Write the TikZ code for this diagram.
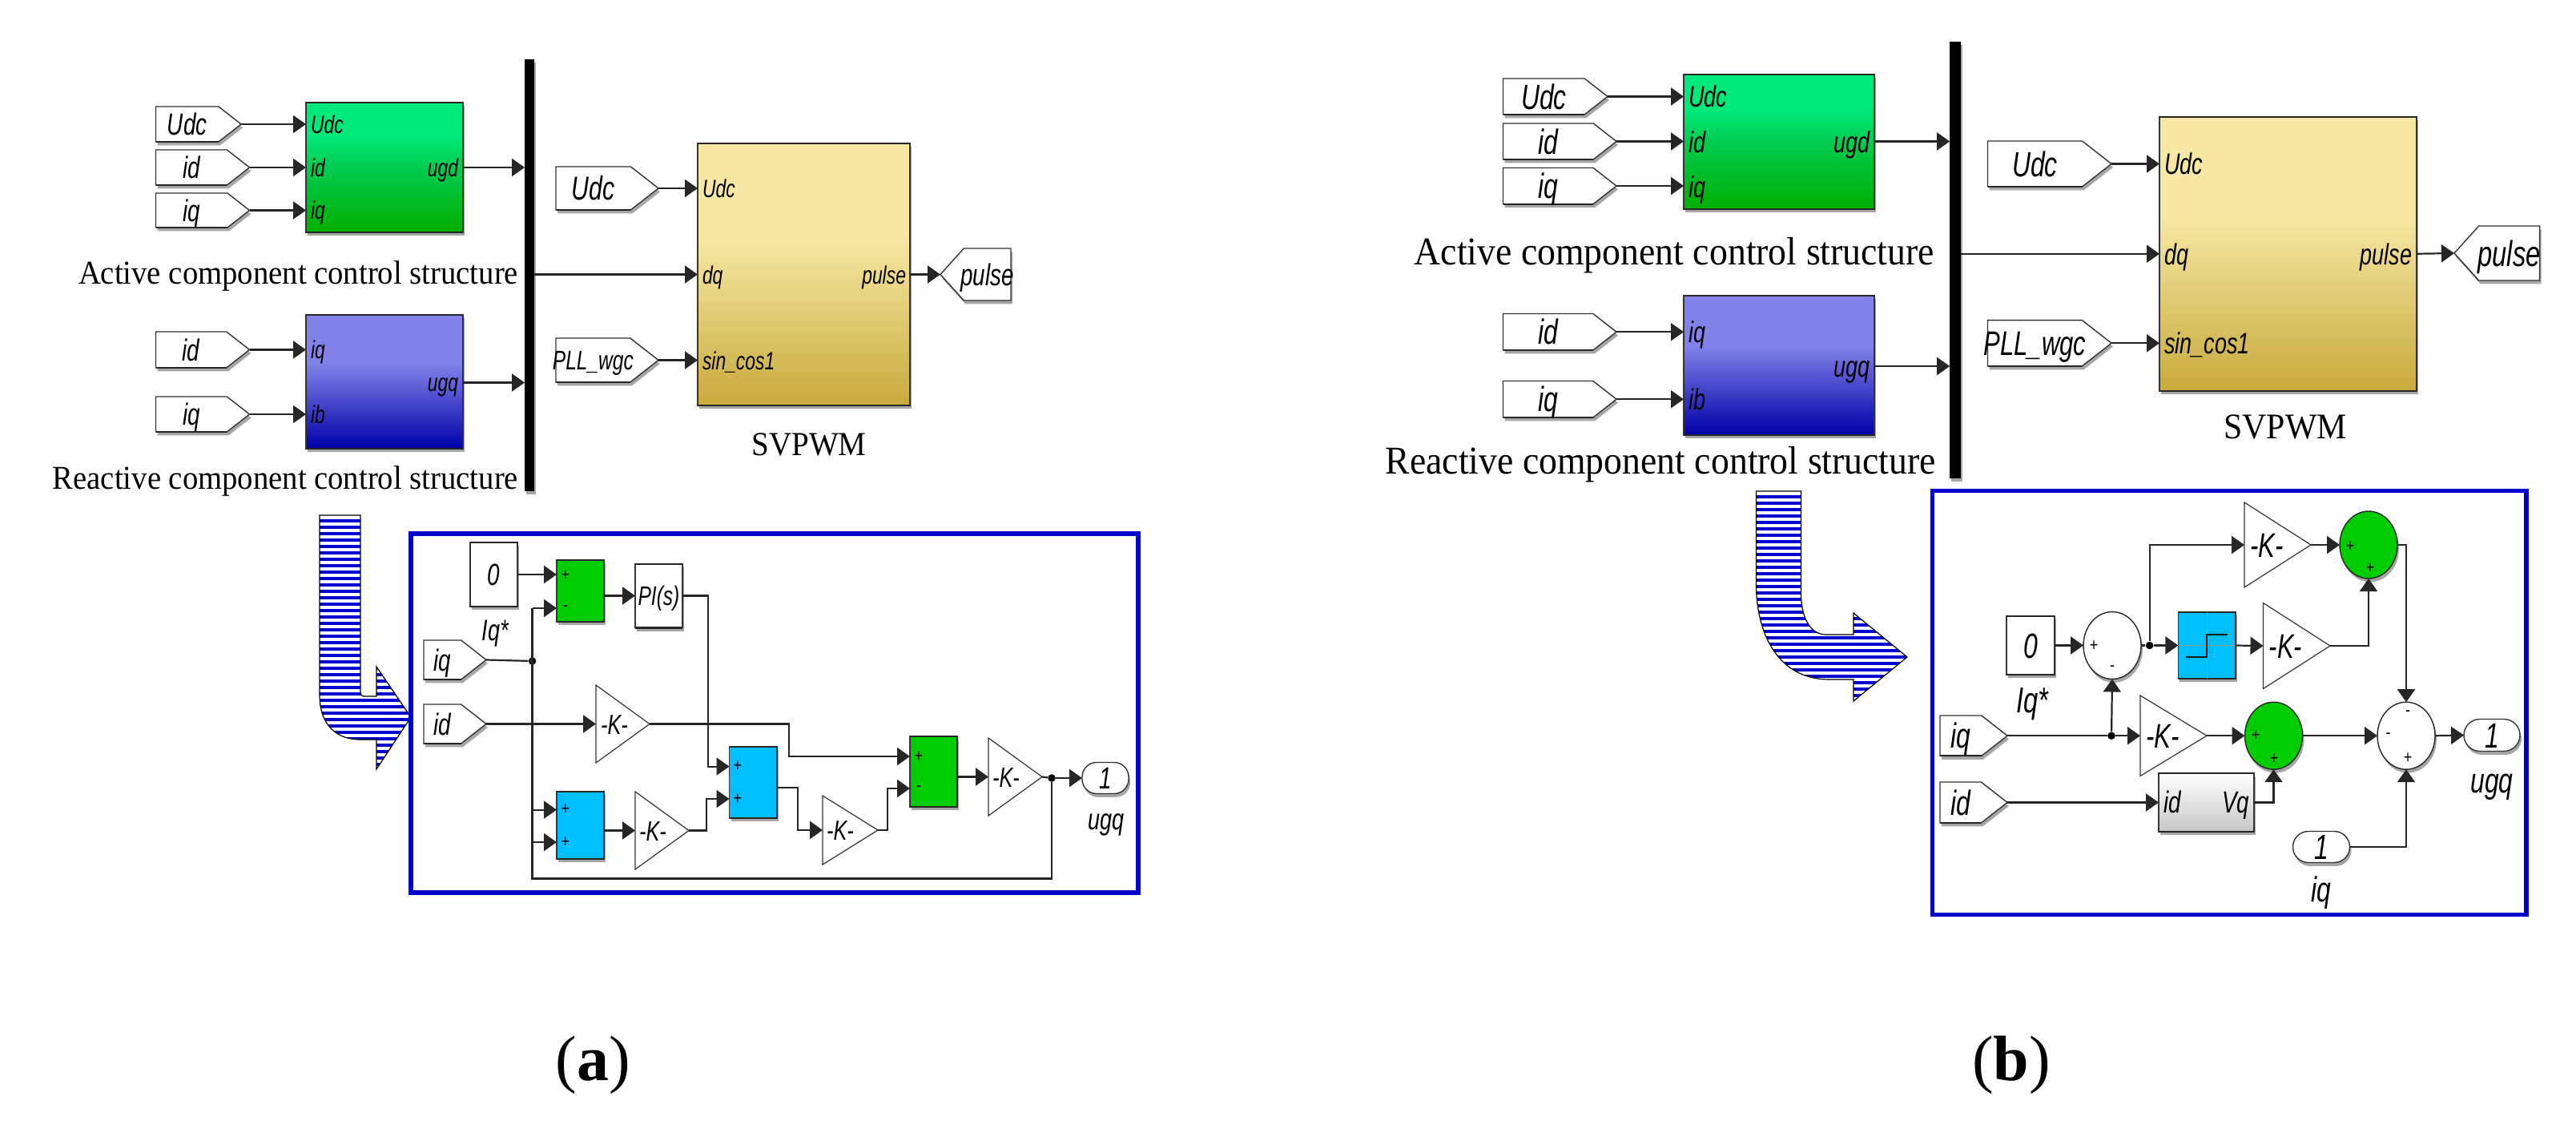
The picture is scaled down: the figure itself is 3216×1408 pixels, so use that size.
\documentclass[tikz,border=0pt]{standalone}
\usepackage{fontspec}
\setmainfont{Liberation Serif}
\newfontfamily\simf[FakeStretch=0.73]{Liberation Sans}
\newfontfamily\simg[FakeStretch=0.82]{Liberation Sans}
\newfontfamily\serf[FakeStretch=0.93]{Liberation Serif}
\usetikzlibrary{arrows.meta,shapes.geometric,shadows,calc}
\definecolor{gA}{HTML}{00CC50}
\definecolor{gB}{HTML}{00E97A}
\definecolor{gC}{HTML}{00AF00}
\definecolor{uA}{HTML}{8282E8}
\definecolor{uC}{HTML}{0000A8}
\definecolor{yA}{HTML}{F6E8A4}
\definecolor{yC}{HTML}{C8AA3C}
\definecolor{frameblue}{HTML}{0000CC}
\definecolor{sumgreen}{HTML}{00CC00}
\definecolor{sumblue}{HTML}{00BFFF}
\pgfdeclareverticalshading{shgreen}{100bp}{color(0bp)=(gC);color(25bp)=(gC);color(50bp)=(gA);color(62bp)=(gB);color(75bp)=(gB);color(100bp)=(gB)}
\pgfdeclareverticalshading{shblue}{100bp}{color(0bp)=(uC);color(25bp)=(uC);color(57bp)=(uA);color(75bp)=(uA);color(100bp)=(uA)}
\pgfdeclareverticalshading{shyellow}{100bp}{color(0bp)=(yC);color(25bp)=(yC);color(57bp)=(yA);color(75bp)=(yA);color(100bp)=(yA)}
\newcommand\sz[1]{\fontsize{#1}{#1}\selectfont}
\newcommand\szt[1]{\pgfmathsetmacro\szv{1.12*#1}\fontsize{\szv}{\szv}\selectfont}
\newcommand\Tx[2]{{\szt{#1}\simf\itshape\smash{#2}\rule{0pt}{.72em}}}
\tikzset{
  sd/.style={drop shadow={shadow xshift=1pt,shadow yshift=-2.2pt,opacity=.35,fill=black}},
  wire/.style={draw=black!85,line width=1.1pt,-{Triangle[length=8pt,width=11pt]}},
  wline/.style={draw=black!85,line width=1.1pt},
  box/.style={rectangle,inner sep=0pt,outer sep=0pt},
  blkst/.style={box,draw=black!80,line width=.7pt,sd},
  lab/.style={inner sep=0pt,outer sep=0pt},
  tagst/.style={draw=black!80,line width=.7pt,fill=white,sd},
  framest/.style={box,draw=frameblue,line width=2.7pt},
  mk/.style={lab,font=\sz{11}\simg},
  dot/.style={circle,fill=black,inner sep=0pt,minimum size=4.8pt},
  capa/.style={lab,font=\sz{20.8}\serf},
  capb/.style={lab,font=\sz{24.6}\serf},
  pill/.style={box,draw=black!80,line width=.7pt,fill=white,rounded corners=9pt,sd},
  ell/.style={ellipse,inner sep=0pt,outer sep=0pt,draw=black!85,line width=.7pt,sd},
}
% rectangular block: name x0 x1 y0 y1 style text
\newcommand\blk[7]{%
  \node[blkst,#6,minimum width={(#3-#2)*.5pt},minimum height={(#5-#4)*.5pt}] (#1) at ({(#2+#3)/2},{(#4+#5)/2}) {#7};
  \draw[black!85,line width=1pt] (#1.north west) -- (#1.north east);
  \draw[black!85,line width=1.2pt] (#1.south west) -- (#1.south east);
}
% tag pointing right
\newcommand\tagR[7]{%
  \pgfmathsetmacro\ddd{0.64*(#5-#4)}
  \draw[tagst] (#2,#4) -- ({#3-\ddd},#4) -- (#3,{(#4+#5)/2}) -- ({#3-\ddd},#5) -- (#2,#5) -- cycle;
  \draw[black!85,line width=1pt] (#2,#5) -- ({#3-\ddd},#5);
  \node[box,minimum width={(#3-#2)*.5pt},minimum height={(#5-#4)*.5pt}] (#1) at ({(#2+#3)/2},{(#4+#5)/2}) {};
  \node[lab] (#1t) at ({(#2+#3-\ddd)/2},{(#4+#5)/2}) {\Tx{#7}{#6}};
}
% tag pointing left
\newcommand\tagL[7]{%
  \pgfmathsetmacro\ddd{0.45*(#5-#4)}
  \draw[tagst] (#3,#4) -- ({#2+\ddd},#4) -- (#2,{(#4+#5)/2}) -- ({#2+\ddd},#5) -- (#3,#5) -- cycle;
  \node[box,minimum width={(#3-#2)*.5pt},minimum height={(#5-#4)*.5pt}] (#1) at ({(#2+#3)/2},{(#4+#5)/2}) {};
  \node[lab] (#1t) at ({(#2+#3+\ddd)/2},{(#4+#5)/2}) {\Tx{#7}{#6}};
}
% gain triangle: name x0 x1 y0 y1 size text-offset
\newcommand\gain[7]{%
  \draw[draw=black!80,line width=.6pt,fill=white] (#2,#4) -- (#3,{(#4+#5)/2}) -- (#2,#5) -- cycle;
  \node[box,minimum width={(#3-#2)*.5pt},minimum height={(#5-#4)*.5pt}] (#1) at ({(#2+#3)/2},{(#4+#5)/2}) {};
  \node[lab] (#1t) at ({#2+#7},{(#4+#5)/2}) {\Tx{#6}{-K-}};
}
\begin{document}
\begin{tikzpicture}[x=0.5pt,y=-0.5pt]
\useasboundingbox[fill=white] (0,0) rectangle (3216,1408);

%%%%%%%%%%%%%%%%%%% PANEL A top
\tagR{aU}{194.5}{301}{133}{177}{Udc}{17}
\tagR{aD}{194.5}{311.5}{187}{231}{id}{17}
\tagR{aQ}{194.5}{311.5}{241}{284}{iq}{17}
\blk{aG}{382}{578}{128}{290}{shade,shading=shgreen}{}
\node[lab,anchor=west] (aGu) at (388,155) {\Tx{14}{Udc}};
\node[lab,anchor=west] (aGd) at (388,209) {\Tx{14}{id}};
\node[lab,anchor=west] (aGq) at (388,262) {\Tx{14}{iq}};
\node[lab,anchor=east] (aGo) at (572,209) {\Tx{14}{ugd}};
\node[box,fill=black,minimum width=6pt,minimum height=269.5pt,sd] (aBus) at (661,343.5) {};
\draw[wire] (aU.east) -- (aU.east -| aG.west);
\draw[wire] (aD.east) -- (aD.east -| aG.west);
\draw[wire] (aQ.east) -- (aQ.east -| aG.west);
\draw[wire] (aD.east -| aG.east) -- (aD.east -| aBus.west);
\node[capa,anchor=base east] (aC1) at (647,354) {Active component control structure};
\tagR{aD2}{194.5}{311.5}{414}{459}{id}{17}
\tagR{aQ2}{194.5}{311.5}{495}{539}{iq}{17}
\blk{aL}{382}{578}{393}{560}{shade,shading=shblue}{}
\node[lab,anchor=west] (aLq) at (388,436) {\Tx{14}{iq}};
\node[lab,anchor=west] (aLb) at (388,517) {\Tx{14}{ib}};
\node[lab,anchor=east] (aLo) at (572,477) {\Tx{14}{ugq}};
\draw[wire] (aD2.east) -- (aD2.east -| aL.west);
\draw[wire] (aQ2.east) -- (aQ2.east -| aL.west);
\coordinate (aLout) at (578,477.5);
\draw[wire] (aLout) -- (aLout -| aBus.west);
\node[capa,anchor=base east] (aC2) at (647,610) {Reactive component control structure};
\tagR{aU2}{694}{822}{208}{262}{Udc}{18.5}
\tagR{aP}{694}{822}{422}{477}{PLL\_wgc}{15}
\blk{aY}{871}{1136}{179}{506}{shade,shading=shyellow}{}
\node[lab,anchor=west] (aYu) at (877,235) {\Tx{14}{Udc}};
\node[lab,anchor=west] (aYq) at (877,343) {\Tx{14}{dq}};
\node[lab,anchor=west] (aYs) at (877,450) {\Tx{14}{sin\_cos1}};
\node[lab,anchor=east] (aYp) at (1131,343) {\Tx{14}{pulse}};
\draw[wire] (aU2.east) -- (aU2.east -| aY.west);
\draw[wire] (aP.east) -- (aP.east -| aY.west);
\draw[wire] (aBus.east |- aY.west) -- (aY.west);
\tagL{aPt}{1174}{1262}{310}{375}{pulse}{17}
\draw[wire] (aY.east) -- (aPt.west);
\node[lab,font=\sz{21}\serf] (aS) at (1010,555) {SVPWM};

%%%%%%%%%%%%%%%%%%% PANEL A arrow
\def\arrA{(399,643) -- (450,643) -- (450,864) .. controls (450,867) and (451,869) .. (454,869) -- (470,869) -- (470,832) -- (513,895) -- (470,960) -- (470,923) -- (450,923) .. controls (420,923) and (399,905) .. (399,867) -- cycle}
\begin{scope}
  \clip \arrA;
  \foreach \yy in {0,...,41} { \fill[frameblue] (390,{648+8*\yy}) rectangle (520,{652.4+8*\yy}); }
\end{scope}
\draw[black,line width=.6pt] \arrA;

%%%%%%%%%%%%%%%%%%% PANEL A lower
\node[framest,minimum width=454pt,minimum height=224pt] (aF) at (967,890) {};
\blk{a0}{587}{646}{677}{757}{fill=white}{\Tx{17}{0}}
\blk{as1}{695}{754}{699}{776}{fill=sumgreen}{}
\node[mk] (as1a) at (706,718) {+};
\node[mk] (as1b) at (706,759) {-};
\blk{api}{793}{852}{703.5}{783.5}{fill=white}{\Tx{15}{PI(s)}}
\node[lab] (aIq) at (618,786) {\Tx{16.5}{Iq*}};
\tagR{ai}{529}{607}{799}{848}{iq}{17}
\tagR{ad}{529}{607}{879}{928}{id}{17}
\node[dot] (aj1) at (664.5,825) {};
\gain{ak1}{744}{811}{855}{952}{15.5}{23}
\blk{as4}{1136}{1195}{919}{1007}{fill=sumgreen}{}
\node[mk] (as4a) at (1147,944) {+};
\node[mk] (as4b) at (1147,984) {-};
\blk{as3}{910.5}{970}{932}{1021}{fill=sumblue}{}
\node[mk] (as3a) at (921,956.6) {+};
\node[mk] (as3b) at (921,997) {+};
\blk{as2}{695}{754}{988}{1072}{fill=sumblue}{}
\node[mk] (as2a) at (706,1010.6) {+};
\node[mk] (as2b) at (706,1051) {+};
\gain{ak2}{793}{860}{988}{1085}{15.5}{22}
\gain{ak3}{1027}{1096}{993}{1079}{15.5}{22}
\gain{ak4}{1234}{1301}{921}{1018}{15.5}{22}
\node[dot] (aj2) at (1313,971) {};
\node[pill,minimum width=29pt,minimum height=19.5pt] (aO) at (1380,971) {\Tx{17}{1}};
\node[lab] (augq) at (1381,1022) {\Tx{16.5}{ugq}};
% wires
\coordinate (p1) at (695,759);
\coordinate (p2) at (695,1010.6);
\coordinate (p3) at (695,1051);
\coordinate (p4) at (884,956.6);
\coordinate (p5) at (910.5,956.6);
\coordinate (p6) at (881.6,997);
\coordinate (p7) at (910.5,997);
\coordinate (p8) at (996,983);
\coordinate (p9) at (970,983);
\coordinate (p10) at (985,944);
\coordinate (p11) at (1136,944);
\coordinate (p12) at (1107.6,984);
\coordinate (p13) at (1136,984);
\coordinate (p14) at (664.5,1096.5);
\coordinate (p15) at (664.5,759);
\coordinate (p16) at (664.5,1010.6);
\draw[wire] (a0.east) -- (a0.east -| as1.west);
\draw[wire] (as1.east |- api.west) -- (api.west);
\draw[wire] (p15) -- (p1);
\draw[wline] (ai.east) -- (aj1);
\draw[wline] (p15) -- (p14);
\draw[wire] (p16) -- (p2);
\draw[wire] (ad.east) -- (ak1.west);
\draw[wire] (api.east) -| (p4) -- (p5);
\draw[wire] (ak1.east) -| (p10) -- (p11);
\draw[wire] (as2.east |- ak2.west) -- (ak2.west);
\draw[wire] (ak2.east) -| (p6) -- (p7);
\draw[wire] (p9) -| (p8) |- (ak3.west);
\draw[wire] (ak3.east) -| (p12) -- (p13);
\draw[wire] (as4.east |- ak4.west) -- (ak4.west);
\draw[wline] (ak4.east) -- (aj2);
\draw[wire] (aj2) -- (aO.west);
\draw[wire] (aj2) |- (p14) |- (p3);

%%%%%%%%%%%%%%%%%%% PANEL B top
\tagR{bU}{1876.5}{2007}{98}{143}{Udc}{19.5}
\tagR{bD}{1876.5}{2018}{154}{199}{id}{19.5}
\tagR{bQ}{1876.5}{2018}{209.5}{254.6}{iq}{19.5}
\blk{bG}{2102}{2340}{92.5}{261}{shade,shading=shgreen}{}
\node[lab,anchor=west] (bGu) at (2108,120) {\Tx{16.5}{Udc}};
\node[lab,anchor=west] (bGd) at (2108,177) {\Tx{16.5}{id}};
\node[lab,anchor=west] (bGq) at (2108,233) {\Tx{16.5}{iq}};
\node[lab,anchor=east] (bGo) at (2334,177) {\Tx{16.5}{ugd}};
\node[box,fill=black,minimum width=6.8pt,minimum height=272.5pt,sd] (bBus) at (2441,324.5) {};
\draw[wire] (bU.east) -- (bU.east -| bG.west);
\draw[wire] (bD.east) -- (bD.east -| bG.west);
\draw[wire] (bQ.east) -- (bQ.east -| bG.west);
\draw[wire] (bD.east -| bG.east) -- (bD.east -| bBus.west);
\node[capb,anchor=base east] (bC1) at (2415,330) {Active component control structure};
\tagR{bD2}{1876.5}{2018}{391.5}{437}{id}{19.5}
\tagR{bQ2}{1876.5}{2018}{475.5}{521}{iq}{19.5}
\blk{bL}{2102}{2340}{368.6}{543}{shade,shading=shblue}{}
\node[lab,anchor=west] (bLq) at (2108,414) {\Tx{16.5}{iq}};
\node[lab,anchor=west] (bLb) at (2108,498) {\Tx{16.5}{ib}};
\node[lab,anchor=east] (bLo) at (2334,457) {\Tx{16.5}{ugq}};
\draw[wire] (bD2.east) -- (bD2.east -| bL.west);
\draw[wire] (bQ2.east) -- (bQ2.east -| bL.west);
\coordinate (bLout) at (2340,457);
\draw[wire] (bLout) -- (bLout -| bBus.west);
\node[capb,anchor=base east] (bC2) at (2417,591) {Reactive component control structure};
\tagR{bU2}{2481.5}{2636}{176}{233}{Udc}{19.5}
\tagR{bP}{2481.5}{2636}{399.6}{457}{PLL\_wgc}{19}
\blk{bY}{2696}{3017}{145.5}{488}{shade,shading=shyellow}{}
\node[lab,anchor=west] (bYu) at (2702,204) {\Tx{16.5}{Udc}};
\node[lab,anchor=west] (bYq) at (2702,317) {\Tx{16.5}{dq}};
\node[lab,anchor=west] (bYs) at (2702,428) {\Tx{16.5}{sin\_cos1}};
\node[lab,anchor=east] (bYp) at (3011,317) {\Tx{16.5}{pulse}};
\draw[wire] (bU2.east) -- (bU2.east -| bY.west);
\draw[wire] (bP.east) -- (bP.east -| bY.west);
\draw[wire] (bBus.east |- bY.west) -- (bY.west);
\tagL{bPt}{3064}{3170.6}{282}{350}{pulse}{20}
\draw[wire] (bY.east) -- (bPt.west);
\node[lab,font=\sz{22.5}\serf] (bS) at (2853,533) {SVPWM};

%%%%%%%%%%%%%%%%%%% PANEL B arrow
\def\arrB{(2192.5,613) -- (2248.5,613) -- (2248.5,745) .. controls (2250,775) and (2262,792) .. (2280,792) -- (2314,792) -- (2314,765) -- (2381,820) -- (2314,875) -- (2314,848) -- (2284,848) .. controls (2225,848) and (2195,800) .. (2192.5,735) -- cycle}
\begin{scope}
  \clip \arrB;
  \foreach \yy in {0,...,33} { \fill[frameblue] (2185,{618+8*\yy}) rectangle (2390,{622.4+8*\yy}); }
\end{scope}
\draw[black,line width=.6pt] \arrB;

%%%%%%%%%%%%%%%%%%% PANEL B lower
\node[framest,minimum width=370.8pt,minimum height=264.5pt] (bF) at (2783,877) {};
\blk{b0}{2505}{2565}{769}{842}{fill=white}{\Tx{19.5}{0}}
\node[ell,fill=white,minimum width=36pt,minimum height=42pt] (bs1) at (2637,805.5) {};
\node[mk] (bs1a) at (2614,806) {+};
\node[mk] (bs1b) at (2637,834.5) {-};
\node[dot] (bj1) at (2683.6,805.5) {};
\blk{bst}{2719.4}{2791}{764}{847}{fill=sumblue}{}
\draw[black!40,line width=.5pt] (bst.west) -- (bst.east) (bst.north) -- (bst.south);
\draw[black!90,line width=1.2pt] (2729,820) -- (2755,820) -- (2755,792) -- (2781,792);
\gain{bk2}{2825.5}{2909}{752.5}{859.5}{19}{28}
\gain{bk1}{2802}{2885}{627}{733}{19}{28}
\node[ell,fill=sumgreen,minimum width=36pt,minimum height=42pt] (bg1) at (2957,680) {};
\node[mk] (bg1a) at (2934,682) {+};
\node[mk] (bg1b) at (2959,709.6) {+};
\node[lab] (bIq) at (2537,873) {\Tx{20}{Iq*}};
\tagR{bi}{2422}{2506}{893}{943.4}{iq}{19.5}
\tagR{bd}{2422}{2506}{976}{1027}{id}{19.5}
\node[dot] (bj2) at (2636,918.2) {};
\gain{bk3}{2672}{2755}{868}{968.4}{19}{28}
\node[ell,fill=sumgreen,minimum width=36pt,minimum height=42pt] (bg2) at (2838.5,918.2) {};
\node[mk] (bg2a) at (2816,918.4) {+};
\node[mk] (bg2b) at (2839,947) {+};
\blk{bsub}{2695}{2814}{965}{1038}{top color=white,bottom color=black!22}{}
\node[lab,anchor=west] (bsi) at (2701,1001) {\Tx{17}{id}};
\node[lab,anchor=east] (bsv) at (2808,1001) {\Tx{17}{Vq}};
\node[ell,fill=white,minimum width=36pt,minimum height=42pt] (bsr) at (3004,918.2) {};
\node[mk] (bsra) at (3006,890.6) {-};
\node[mk] (bsrb) at (2981.6,918.4) {-};
\node[mk] (bsrc) at (3006,946) {+};
\node[pill,minimum width=35pt,minimum height=20pt,rounded corners=10pt] (bO) at (3111,917.5) {\Tx{19.5}{1}};
\node[lab] (bugq) at (3111,974) {\Tx{19.5}{ugq}};
\node[pill,minimum width=35.5pt,minimum height=19.5pt,rounded corners=9.7pt] (bIn) at (2898,1057) {\Tx{19.5}{1}};
\node[lab] (biq) at (2898,1110) {\Tx{19.5}{iq}};
% wires
\draw[wire] (b0.east) -- (bs1.west);
\draw[wline] (bs1.east) -- (bj1);
\draw[wire] (bj1) -- (bst.west);
\draw[wire] (bst.east) -- (bk2.west);
\draw[wire] (bj1) |- (bk1.west);
\draw[wire] (bk1.east) -- (bg1.west);
\draw[wire] (bk2.east) -| (bg1.south);
\draw[wire] (bg1.east) -| (bsr.north);
\draw[wline] (bi.east) -- (bj2);
\draw[wire] (bj2) -- (bs1.south);
\draw[wire] (bj2) -- (bk3.west);
\draw[wire] (bk3.east) -- (bg2.west);
\draw[wire] (bg2.east) -- (bsr.west);
\draw[wire] (bd.east) -- (bsub.west);
\draw[wire] (bsub.east) -| (bg2.south);
\draw[wire] (bsr.east) -- (bO.west);
\draw[wire] (bIn.east) -| (bsr.south);

%%%%%%%%%%%%%%%%%%% captions
\node[lab,anchor=base,font=\sz{40}] (capta) at (740,1348) {(\textbf{a})};
\node[lab,anchor=base,font=\sz{40}] (captb) at (2511,1348) {(\textbf{b})};
\end{tikzpicture}
\end{document}
